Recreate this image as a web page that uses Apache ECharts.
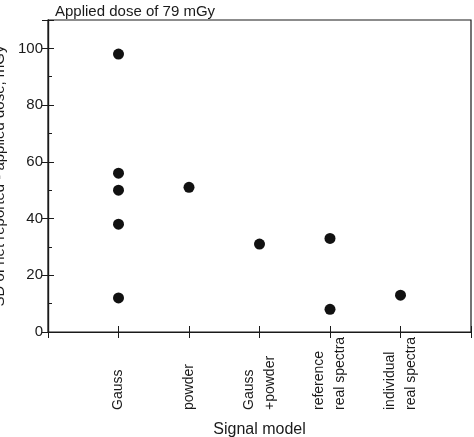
<!DOCTYPE html><html><head><meta charset="utf-8"><script src="https://cdn.jsdelivr.net/npm/echarts@6/dist/echarts.min.js"></script>
<style>html,body{margin:0;padding:0;background:#fff}#c{width:474px;height:437px}</style></head><body><div id="c"></div><script>
const categories=['Gauss','powder','Gauss\n+powder','reference\nreal spectra','individual\nreal spectra'];
const gaussVals=[98,56,50,38,12];
const powderVals=[51];
const gaussPowderVals=[31];
const referenceVals=[33,8];
const individualVals=[13];
const groups=[gaussVals,powderVals,gaussPowderVals,referenceVals,individualVals];
const data=[];groups.forEach((g,i)=>g.forEach(v=>data.push([i+1,v])));
const F='Liberation Sans, Arial, sans-serif';
const C='#1a1a1a';
const ax={axisLine:{show:true,lineStyle:{color:C,width:1.2}},splitLine:{show:false}};
const tk={inside:true,length:6,lineStyle:{color:C}};
const chart=echarts.init(document.getElementById('c'));
chart.setOption({animation:false,
title:{text:'Applied dose of 79 mGy',left:50,top:-1,textStyle:{fontFamily:F,fontSize:15,fontWeight:'normal',color:C}},
grid:{left:48,right:3,top:20,bottom:105,outerBoundsMode:'none',show:true,borderColor:C,borderWidth:1.2,backgroundColor:'transparent'},
xAxis:[{type:'value',min:0,max:6,interval:1,...ax,axisTick:tk,
 axisLabel:{rotate:90,align:'left',margin:78,fontFamily:F,fontSize:14,color:C,lineHeight:21,formatter:v=>categories[v-1]||''},
 name:'Signal model',nameLocation:'middle',nameGap:90,nameTextStyle:{fontFamily:F,fontSize:16,color:C}},
 {type:'value',position:'top',min:0,max:6,interval:1,...ax,axisTick:tk,axisLabel:{show:false}}],
yAxis:[{type:'value',min:0,max:110,interval:20,...ax,axisTick:tk,
 minorTick:{show:true,splitNumber:2,length:4,lineStyle:{color:C}},
 axisLabel:{fontFamily:F,fontSize:15,color:C,margin:5,formatter:v=>v>100?'':String(v)},
 name:'SD of net reported - applied dose, mGy',nameLocation:'middle',nameGap:31,nameTextStyle:{fontFamily:F,fontSize:15,color:C}},
 {type:'value',position:'right',min:0,max:110,interval:20,...ax,axisTick:tk,axisLabel:{show:false}}],
series:[{type:'scatter',data:data,symbolSize:11,itemStyle:{color:'#111',opacity:1}}]});
</script></body></html>
